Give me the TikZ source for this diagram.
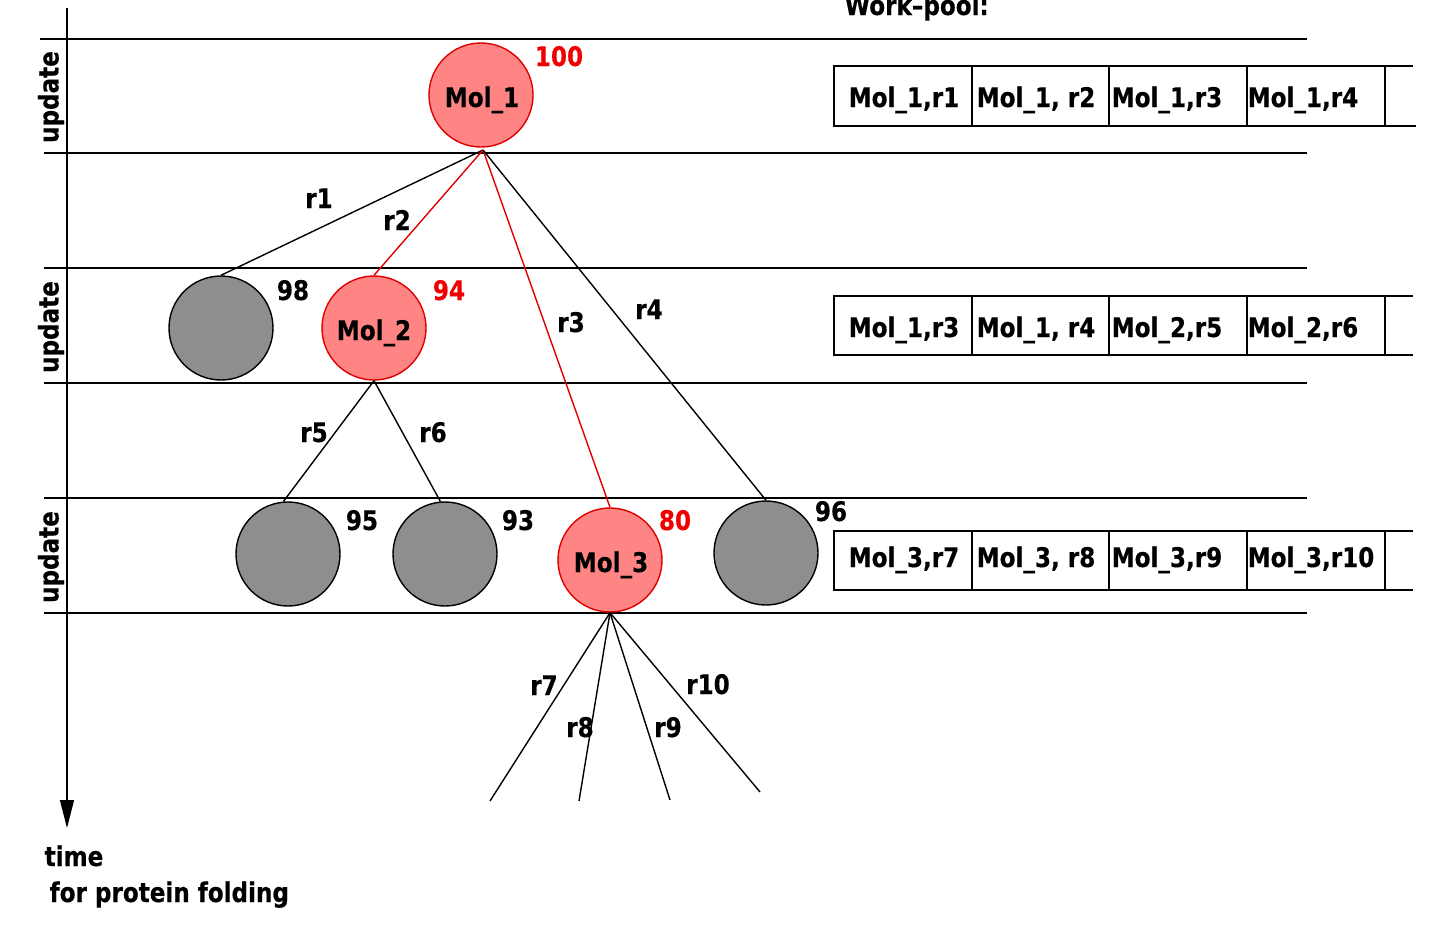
\documentclass[tikz,border=0pt]{standalone}
\usepackage{fontspec}
\setmainfont{DejaVu Sans Condensed}[FakeStretch=0.95,BoldFeatures={FakeBold=0.4}]
\usetikzlibrary{arrows.meta}
\definecolor{molfill}{HTML}{FF8585}
\definecolor{molline}{HTML}{E00000}
\definecolor{grayfill}{HTML}{8E8E8E}
\definecolor{numred}{HTML}{F00000}
\begin{document}
\begin{tikzpicture}[x=0.5pt,y=-0.5pt,line width=0.7pt,
  lab/.style={font=\fontsize{13.5}{15}\selectfont\bfseries,inner sep=0pt,anchor=base},
  redlab/.style={lab,text=numred},
  cell/.style={lab,anchor=base west},
  mol/.style={circle,draw=molline,fill=molfill,minimum size=52pt,inner sep=0pt},
  gmol/.style={circle,draw=black,fill=grayfill,minimum size=52pt,inner sep=0pt},
  blk/.style={draw=black},
  redln/.style={draw=molline}]
\useasboundingbox (0,0) rectangle (1434,926);
% time axis
\coordinate (axtop) at (67,8);
\coordinate (axend) at (67,828);
\draw[-{Triangle[width=7pt,length=14pt]}] (axtop) -- (axend);
% horizontal lines
\draw (40,39) -- (1307,39);
\foreach \y in {153,268,383,498,613} \draw (44,\y) -- (1307,\y);
% update labels
\node[lab,rotate=90,anchor=center] (u1) at (51,97) {update};
\node[lab,rotate=90,anchor=center] (u2) at (51,327) {update};
\node[lab,rotate=90,anchor=center] (u3) at (51,557) {update};
% work-pool
\node[cell] (wp) at (844,15) {Work–pool:};
\foreach \t/\b/\e in {66/126/1416,296/355/1413,531/590/1413}{
  \draw (1413,\t) -- (834,\t) -- (834,\b) -- (\e,\b);
  \foreach \x in {972,1109,1247,1385} \draw (\x,\t) -- (\x,\b);
}
\node[cell] (c11) at (848,107) {Mol\_1,r1};
\node[cell] (c12) at (976,107) {Mol\_1, r2};
\node[cell] (c13) at (1111,107) {Mol\_1,r3};
\node[cell] (c14) at (1247,107) {Mol\_1,r4};
\node[cell] (c21) at (848,337) {Mol\_1,r3};
\node[cell] (c22) at (976,337) {Mol\_1, r4};
\node[cell] (c23) at (1111,337) {Mol\_2,r5};
\node[cell] (c24) at (1247,337) {Mol\_2,r6};
\node[cell] (c31) at (848,567) {Mol\_3,r7};
\node[cell] (c32) at (976,567) {Mol\_3, r8};
\node[cell] (c33) at (1111,567) {Mol\_3,r9};
\node[cell] (c34) at (1247,567) {Mol\_3,r10};
% molecules
\node[mol] (m1) at (481,95) {};
\node[gmol] (g1) at (221,328) {};
\node[mol] (m2) at (374,328) {};
\node[gmol] (g95) at (288,554) {};
\node[gmol] (g93) at (445,554) {};
\node[mol] (m3) at (610,560) {};
\node[gmol] (g96) at (766,553) {};
\node[lab] (t1) at (482,107) {Mol\_1};
\node[lab] (t2) at (374,340) {Mol\_2};
\node[lab] (t3) at (611,572) {Mol\_3};
% scores
\node[redlab] (s100) at (559,66) {100};
\node[lab] (s98) at (293,300) {98};
\node[redlab] (s94) at (449,300) {94};
\node[lab] (s95) at (362,530) {95};
\node[lab] (s93) at (518,530) {93};
\node[redlab] (s80) at (675,530) {80};
\node[lab] (s96) at (831,521) {96};
% edges
\coordinate (m1b) at (483,150);
\draw[blk] (m1b) -- (g1.north);
\draw[redln] (m1b) -- (m2.north);
\draw[redln] (m1b) -- (m3.north);
\draw[blk] (m1b) -- (g96.north);
\draw[blk] (m2.south) -- (g95.95);
\draw[blk] (m2.south) -- (g93.95);
\coordinate (e7) at (490,801);
\coordinate (e8) at (579,801);
\coordinate (e9) at (670,800);
\coordinate (e10) at (760,792);
\draw[blk] (m3.south) -- (e7);
\draw[blk] (m3.south) -- (e8);
\draw[blk] (m3.south) -- (e9);
\draw[blk] (m3.south) -- (e10);
% edge labels
\node[lab] (r1) at (319,208) {r1};
\node[lab] (r2) at (397,230) {r2};
\node[lab] (r3) at (571,332) {r3};
\node[lab] (r4) at (649,319) {r4};
\node[lab] (r5) at (314,442) {r5};
\node[lab] (r6) at (433,442) {r6};
\node[lab] (r7) at (544,695) {r7};
\node[lab] (r8) at (580,737) {r8};
\node[lab] (r9) at (668,737) {r9};
\node[lab] (r10) at (708,694) {r10};
% bottom text
\node[cell] (time) at (44,866) {time};
\node[cell] (pf) at (49,902) {for protein folding};
\end{tikzpicture}
\end{document}
